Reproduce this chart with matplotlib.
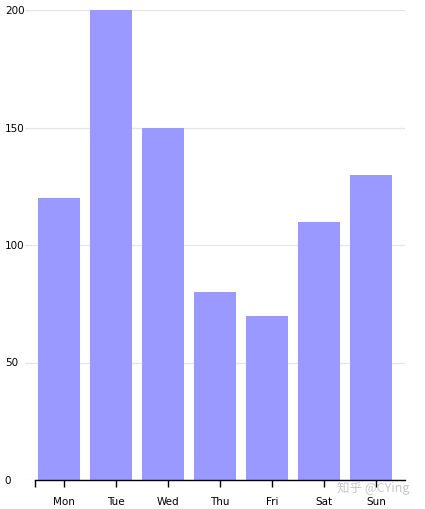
import numpy as np
import matplotlib.pyplot as plt

days = ['Mon', 'Tue', 'Wed', 'Thu', 'Fri', 'Sat', 'Sun']
values = [120, 200, 150, 80, 70, 110, 130]
yticks = [0, 50, 100, 150, 200]

fig = plt.figure(figsize=(4.25, 5.09), dpi=100)
W, H = 425, 509
ax = fig.add_axes([25 / W, 29 / H, 380 / W, 470 / H])

x = np.arange(len(days))
ax.bar(x, values, width=42 / 52, color='#9999ff', zorder=2)

ax.set_xlim(-34 / 52, 346 / 52)
ax.set_ylim(0, 200)

# grid
ax.set_yticks(yticks)
ax.yaxis.grid(True, color='#e6e6e6', linewidth=1, zorder=0)
ax.tick_params(axis='y', length=0, pad=14.5, labelsize=7.5)
for lab in ax.get_yticklabels():
    lab.set_horizontalalignment('left')

# x axis: ticks slightly offset from bar centres
off = 5 / 52
ax.set_xticks(list(x + off))
ax.set_xticklabels(days, fontsize=7.5)
ax.set_xticks([-24 / 52], minor=True)
ax.tick_params(axis='x', which='both', direction='out', length=5, width=1, color='black', pad=7)

for s in ['top', 'right', 'left']:
    ax.spines[s].set_visible(False)
ax.spines['bottom'].set_bounds(-24 / 52, 346 / 52)
ax.spines['bottom'].set_linewidth(1)
ax.spines['bottom'].set_zorder(3)

fig.text(373 / W, 1 - 488 / H, '知乎 @CYing', color='#c8c8c8', fontsize=9,
         family=['Noto Sans CJK SC', 'DejaVu Sans'], ha='center', va='center')

fig.savefig('out.png', dpi=100)
